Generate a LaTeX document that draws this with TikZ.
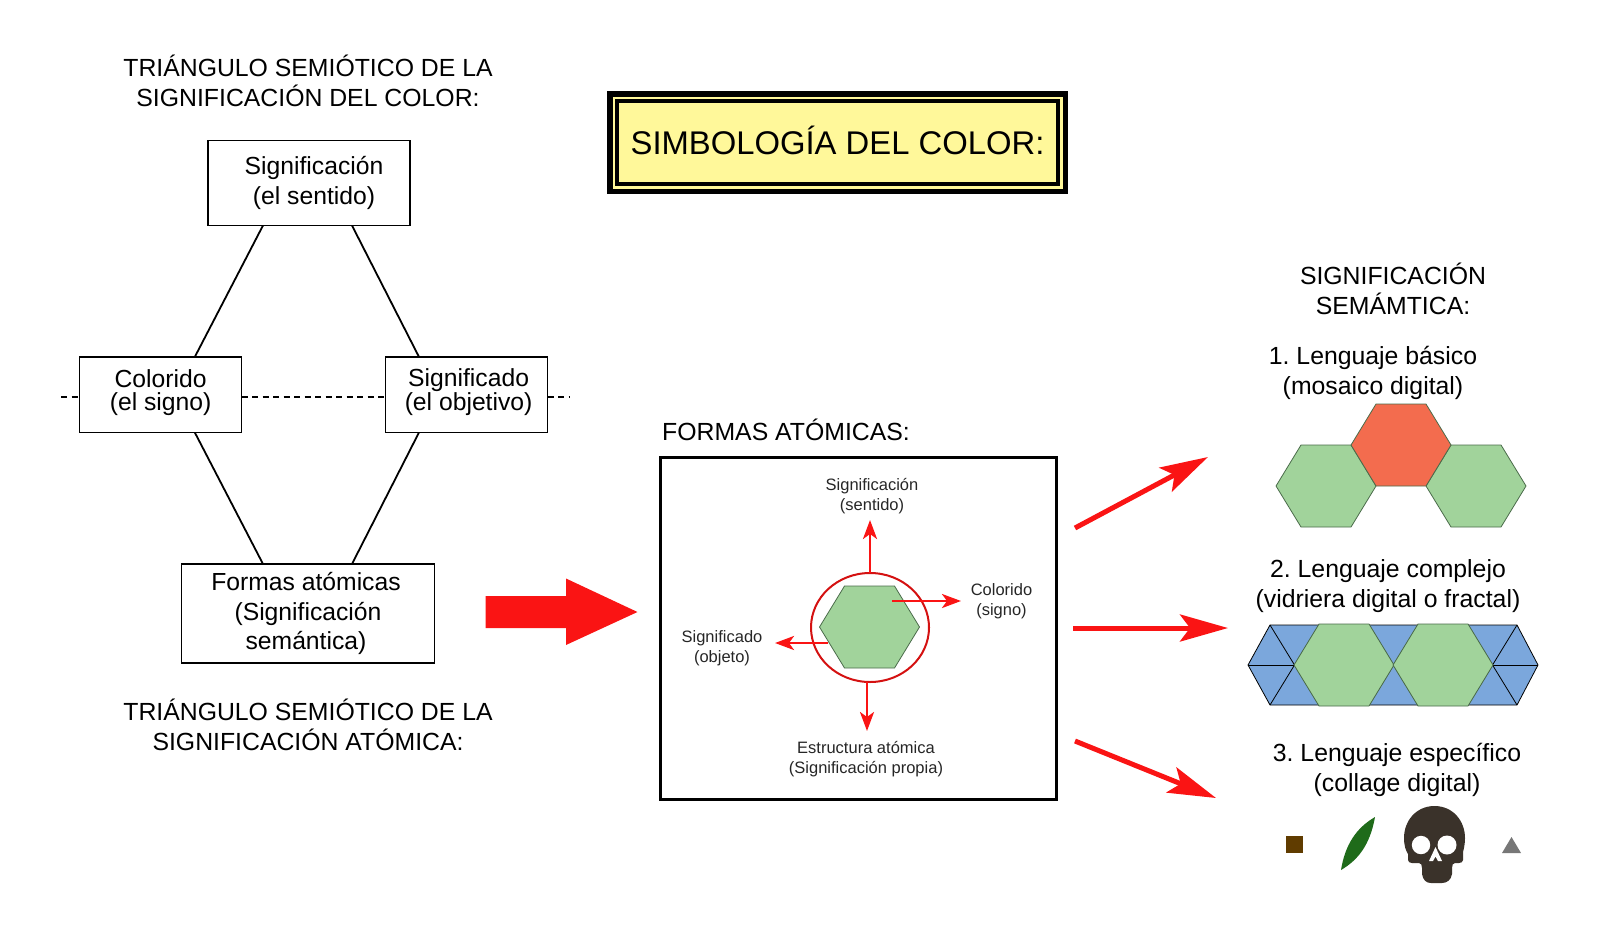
\documentclass[tikz,border=0pt]{standalone}
\usepackage{fontspec}
\setmainfont{Liberation Sans}
\usetikzlibrary{arrows.meta,calc,shapes.geometric}
\definecolor{verdehex}{HTML}{A1D39B}
\definecolor{rojohex}{HTML}{F36C4E}
\definecolor{azulhex}{HTML}{7BA7DC}
\definecolor{rojofl}{HTML}{FA1414}
\definecolor{amarillo}{HTML}{FFF89A}
\definecolor{bordehex}{HTML}{4A6B4A}
\frenchspacing
\tikzset{
    caja/.style={draw,line width=1.6pt,inner sep=0pt,outer sep=0pt,align=center,font=\fontsize{24.7}{29.7}\selectfont},
    cajaapretada/.style={caja,font=\fontsize{24.7}{23}\selectfont},
    rotulo/.style={inner sep=0pt,align=center,font=\fontsize{24.8}{29.7}\selectfont},
    rotulochico/.style={inner sep=0pt,align=center,font=\fontsize{16.5}{20}\selectfont,text=black!85},
    enlace/.style={line width=1.8pt},
    flechafina/.style={draw=rojofl,line width=2.6pt,-{Stealth[length=19pt,width=14pt,inset=5pt]}},
    flechagrande/.style={draw=rojofl,line width=5pt,-{Stealth[length=48pt,width=27pt,inset=10pt]}},
    hexa/.style={draw=bordehex,line width=.8pt},
    triazul/.style={draw=black,line width=.8pt}
}
\newcommand{\hexagono}[3][verdehex]{\draw[hexa,fill=#1](#2-50,#3)--(#2-25,#3-41)--(#2+25,#3-41)--(#2+50,#3)--(#2+25,#3+41)--(#2-25,#3+41)--cycle;}
\begin{document}
\begin{tikzpicture}[x=1pt,y=-1pt]
    \useasboundingbox(0,0)rectangle(1600,937);
    % triangulo izquierdo
    \node[rotulo](tituloA)at(308,81){TRIÁNGULO SEMIÓTICO DE LA\\SIGNIFICACIÓN DEL COLOR:};
    \node[caja,minimum width=202pt,minimum height=85pt](sentido)at(309,183){\hspace*{10pt}Significación\\\hspace*{10pt}(el sentido)};
    \node[cajaapretada,minimum width=162pt,minimum height=75.5pt](colorido)at(160.6,394.7){Colorido\\(el signo)\\[-13pt]};
    \node[cajaapretada,minimum width=162pt,minimum height=75.5pt](objetivo)at(466.6,394.7){\hspace*{4pt}Significado\\\hspace*{4pt}(el objetivo)\\[-13pt]};
    \node[caja,minimum width=253pt,minimum height=99pt](formas)at(308,613.5){Formas atómicas\hspace*{4pt}\\(Significación\hspace*{4pt}\\semántica)\hspace*{4pt}};
    \node[rotulo](tituloB)at(308,725){TRIÁNGULO SEMIÓTICO DE LA\\SIGNIFICACIÓN ATÓMICA:};
    \coordinate(izq)at(61,397);
    \coordinate(der)at(569,397);
    \draw[enlace]($(sentido.south)+(-46,0)$)--($(colorido.north)+(34.2,0)$);
    \draw[enlace]($(sentido.south)+(43,0)$)--($(objetivo.north)+(-47.6,0)$);
    \draw[enlace]($(colorido.south)+(34.2,0)$)--($(formas.north)+(-45,0)$);
    \draw[enlace]($(objetivo.south)+(-47.6,0)$)--($(formas.north)+(44,0)$);
    \draw[enlace,dash pattern=on 6pt off 4.5pt](izq)--(izq-|colorido.west);
    \draw[enlace,dash pattern=on 6pt off 4.5pt](izq-|colorido.east)--(izq-|objetivo.west);
    \draw[enlace,dash pattern=on 6pt off 4.5pt](izq-|objetivo.east)--(der);
    % titulo
    \node[draw,fill=amarillo,line width=5.5pt,inner sep=0pt,outer sep=0pt,align=center,minimum width=455.5pt,minimum height=97.5pt,font=\fontsize{32.8}{40}\selectfont](titulo)at(837.5,142.5){SIMBOLOGÍA DEL COLOR:\\[-35pt]};
    \draw[line width=4pt]($(titulo.north west)+(7,7)$)rectangle($(titulo.south east)+(-7,-7)$);
    % flecha grande
    \coordinate(iniciogr)at(485.5,612);
    \coordinate(bocagr)at(566,612);
    \coordinate(puntagr)at(637.5,612);
    \fill[rojofl]($(iniciogr)+(0,-16)$)--($(bocagr)+(0,-16)$)--($(bocagr)+(0,-33.5)$)--(puntagr)--($(bocagr)+(0,33)$)--($(bocagr)+(0,16)$)--($(iniciogr)+(0,16)$)--cycle;
    % formas atomicas
    \node[rotulo,anchor=west](tituloC)at(662,430){FORMAS ATÓMICAS:};
    \node[draw,line width=3pt,inner sep=0pt,outer sep=0pt,minimum width=396pt,minimum height=342pt](marco)at(858,628.5){};
    \hexagono{869.5}{627}
    \node[draw=rojofl!85!black,line width=2pt,ellipse,inner sep=0pt,outer sep=0pt,minimum width=118pt,minimum height=109pt](aro)at(870,627.5){};
    \node[rotulochico](nsentido)at(872,496.5){Significación\\(sentido)};
    \node[rotulochico](nsigno)at(1001.5,601){Colorido\\(signo)};
    \node[rotulochico](nobjeto)at(722,648){Significado\\(objeto)};
    \node[rotulochico](nestructura)at(866,759){Estructura atómica\\(Significación propia)};
    \coordinate(adentroder)at(892,601);
    \coordinate(adentroizq)at(828,643);
    \draw[flechafina](aro.north)--(870,520);
    \draw[flechafina](adentroder)--(961,601);
    \draw[flechafina](adentroizq)--(775,643);
    \draw[flechafina]($(aro.south)+(-3,0)$)--(867,731);
    % tres flechas
    \coordinate(sale1)at(1075,528);
    \coordinate(sale2)at(1073,628);
    \coordinate(sale3)at(1075,741);
    \coordinate(llega1)at(1208,457);
    \coordinate(llega2)at(1228,628);
    \coordinate(llega3)at(1216,798);
    \draw[flechagrande](sale1)--(llega1);
    \draw[flechagrande](sale2)--(llega2);
    \draw[flechagrande](sale3)--(llega3);
    % lenguajes
    \node[rotulo](tituloD)at(1393,289){SIGNIFICACIÓN\\SEMÁMTICA:};
    \node[rotulo](basico)at(1373,373){1. Lenguaje básico\\(mosaico digital)};
    \hexagono{1326}{486}
    \hexagono{1476}{486}
    \hexagono[rojohex]{1401}{445}
    \node[rotulo](complejo)at(1388,586){2. Lenguaje complejo\\(vidriera digital o fractal)};
    \draw[triazul,fill=azulhex](1248,665)--(1270,625)--(1517,625)--(1538,665)--(1517,705)--(1270,705)--cycle;
    \foreach \xa/\ya/\xb/\yb in {1270/625/1319/705,1319/625/1270/705,1248/665/1295/665,1468/625/1517/705,1517/625/1468/705,1493/665/1538/665,1369/625/1418/705,1418/625/1369/705}{
        \draw[triazul](\xa,\ya)--(\xb,\yb);
    }
    \hexagono{1344}{665}
    \hexagono{1443}{665}
    \node[rotulo](especifico)at(1397,770){3. Lenguaje específico\\(collage digital)};
    % collage
    \fill[fill={rgb,255:red,96;green,60;blue,0}](1286,836)rectangle(1303,853);
    \fill[fill={rgb,255:red,31;green,107;blue,26}](1375,817)..controls(1356,828)and(1345,845)..(1341,870)..controls(1358,860)and(1370,845)..(1375,817)--cycle;
    \fill[fill={rgb,255:red,58;green,50;blue,42}](1434.5,806)..controls(1416,806)and(1404,821)..(1404,838)..controls(1404,846)and(1406,851)..(1408,854)--(1408,860)..controls(1408,862)and(1410,863)..(1412,863)--(1419,863)..controls(1421,863)and(1422,865)..(1422,868)--(1422,874)..controls(1423,880)and(1426,883)..(1431,883)--(1442,883)..controls(1447,883)and(1451,880)..(1452,874)--(1452,868)..controls(1452,865)and(1453,863)..(1455,863)--(1459,863)..controls(1461,863)and(1463,862)..(1463,860)--(1463,852)..controls(1464,848)and(1465,844)..(1465,838)..controls(1465,821)and(1453,806)..(1434.5,806)--cycle;
    \fill[white](1421,845)circle(9.2);
    \fill[white](1447,845)circle(9.5);
    \fill[white](1435.5,847)--(1442,861)--(1438,861)--(1435.5,856.5)--(1433,861)--(1429,861)--cycle;
    \fill[fill={rgb,255:red,119;green,119;blue,119}](1502,853)--(1511.5,837)--(1521,853)--cycle;
\end{tikzpicture}
\end{document}
